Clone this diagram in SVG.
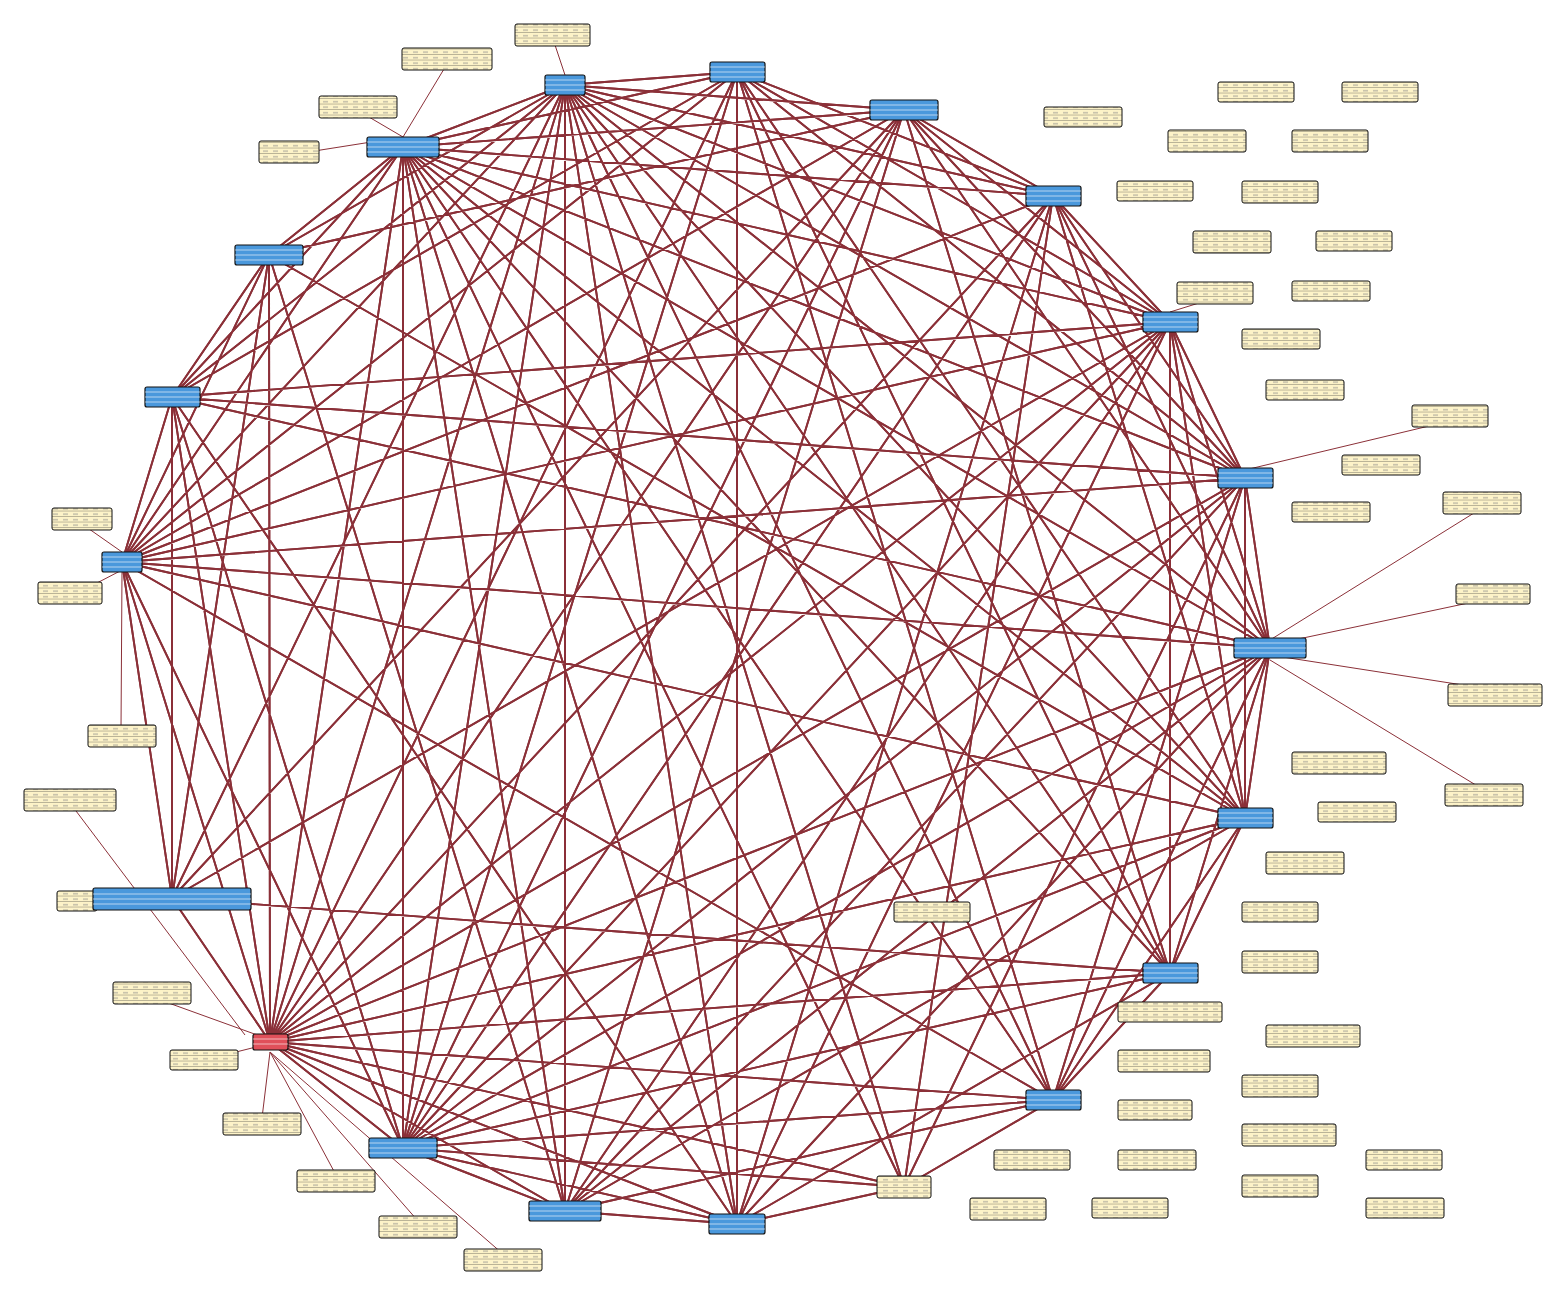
<svg xmlns="http://www.w3.org/2000/svg" width="1565" height="1297" viewBox="0 0 1565 1297">
<defs>
<pattern id="rows" width="10" height="5.5" patternUnits="userSpaceOnUse"><rect width="10" height="5.5" fill="#fdf3c8"/><line x1="0" y1="5.2" x2="10" y2="5.2" stroke="#333" stroke-width="0.4"/><line x1="3" y1="2.7" x2="8" y2="2.7" stroke="#888" stroke-width="0.8"/></pattern>
</defs>
<style>
.e{fill:none;stroke:#8b3038;stroke-width:1.9}
.s{fill:none;stroke:#8b3038;stroke-width:1}
.h{fill:#4a98dc;stroke:#111;stroke-width:1.2}
.r{fill:#e0505a;stroke:#111;stroke-width:1.2}
.y{fill:url(#rows);stroke:#111;stroke-width:1}
</style>
<rect width="1565" height="1297" fill="#fff"/>
<g id="connectors">
<g id="edges">
<path id="E" d="M565 85L737 72M565 85L904 110M565 85L1053 196M565 85L1170 322M565 85L1245 478M565 85L1270 648M565 85L1245 818M565 85L1170 973M565 85L1053 1100M565 85L904 1187M565 85L737 1224M565 85L565 1211M565 85L403 1148M565 85L270 1042M565 85L172 898M565 85L122 562M565 85L172 397M565 85L269 255M565 85L403 147
M737 72L1053 196M737 72L1170 322M737 72L1245 478M737 72L1245 818M737 72L1170 973M737 72L1053 1100M737 72L737 1224M737 72L403 1148M737 72L270 1042M737 72L122 562M737 72L172 397M737 72L403 147
M904 110L1053 196M904 110L1170 322M904 110L1245 478M904 110L1270 648M904 110L1170 973M904 110L565 1211M904 110L403 1148M904 110L270 1042M904 110L172 898M904 110L122 562M904 110L269 255M904 110L403 147
M1053 196L1170 322M1053 196L1245 478M1053 196L1270 648M1053 196L1245 818M1053 196L904 1187M1053 196L737 1224M1053 196L403 1148M1053 196L270 1042M1053 196L122 562M1053 196L403 147
M1170 322L1245 478M1170 322L1270 648M1170 322L1245 818M1170 322L1170 973M1170 322L737 1224M1170 322L565 1211M1170 322L403 1148M1170 322L270 1042M1170 322L172 898M1170 322L122 562M1170 322L172 397M1170 322L403 147
M1245 478L1270 648M1245 478L1245 818M1245 478L1053 1100M1245 478L904 1187M1245 478L565 1211M1245 478L403 1148M1245 478L270 1042M1245 478L122 562M1245 478L172 397M1245 478L403 147
M1270 648L1245 818M1270 648L1170 973M1270 648L1053 1100M1270 648L737 1224M1270 648L565 1211M1270 648L403 1148M1270 648L270 1042M1270 648L122 562M1270 648L172 397M1270 648L403 147
M1245 818L1170 973M1245 818L1053 1100M1245 818L565 1211M1245 818L403 1148M1245 818L270 1042M1245 818L122 562M1245 818L269 255M1245 818L403 147
M1170 973L1053 1100M1170 973L737 1224M1170 973L403 1148M1170 973L270 1042M1170 973L172 898M1170 973L403 147
M1053 1100L904 1187M1053 1100L565 1211M1053 1100L403 1148M1053 1100L270 1042M1053 1100L122 562M1053 1100L403 147
M904 1187L737 1224M904 1187L403 1148M904 1187L270 1042M904 1187L403 147
M737 1224L565 1211M737 1224L403 1148M737 1224L270 1042M737 1224L172 397M737 1224L403 147
M565 1211L403 1148M565 1211L270 1042M565 1211L269 255M565 1211L403 147
M403 1148L270 1042M403 1148L122 562M403 1148L172 397M403 1148L403 147
M270 1042L172 898M270 1042L122 562M270 1042L172 397M270 1042L269 255M270 1042L403 147
M172 898L122 562M172 898L172 397M172 898L269 255
M122 562L172 397M122 562L269 255M122 562L403 147
M172 397L269 255M172 397L403 147M269 255L403 147" class="e"/>
<use href="#E" style="stroke:#fff;stroke-width:0.7"/>
</g>
<path class="s" d="M552 36L565 75M447 64L403 137M357 110L403 137M289 155L403 137M82 524L122 552M70 597L122 570M121 729L122 572M70 803L245 1035M152 997L260 1036M204 1060L260 1046M262 1118L270 1052M336 1175L270 1052M418 1221L270 1052M503 1254L270 1052M1450 421L1245 470M1482 508L1270 640M1492 598L1270 645M1495 690L1270 655M1484 790L1270 660M1215 298L1170 312"/>
</g>
<g id="hubs">
<g id="h1"><rect class="h" x="545" y="75" width="40" height="20" rx="2"/></g>
<g id="h2"><rect class="h" x="710" y="62" width="55" height="20" rx="2"/></g>
<g id="h3"><rect class="h" x="870" y="100" width="68" height="20" rx="2"/></g>
<g id="h4"><rect class="h" x="1026" y="186" width="55" height="20" rx="2"/></g>
<g id="h5"><rect class="h" x="1143" y="312" width="55" height="20" rx="2"/></g>
<g id="h6"><rect class="h" x="1218" y="468" width="55" height="20" rx="2"/></g>
<g id="h7"><rect class="h" x="1234" y="638" width="72" height="20" rx="2"/></g>
<g id="h8"><rect class="h" x="1218" y="808" width="55" height="20" rx="2"/></g>
<g id="h9"><rect class="h" x="1143" y="963" width="55" height="20" rx="2"/></g>
<g id="h10"><rect class="h" x="1026" y="1090" width="55" height="20" rx="2"/></g>
<g id="h11"><rect class="y" x="877" y="1176" width="54" height="22" rx="2"/></g>
<g id="h12"><rect class="h" x="709" y="1214" width="56" height="20" rx="2"/></g>
<g id="h13"><rect class="h" x="529" y="1201" width="72" height="20" rx="2"/></g>
<g id="h14"><rect class="h" x="369" y="1138" width="68" height="20" rx="2"/></g>
<g id="h16"><rect class="y" x="57" y="891" width="40" height="20" rx="2"/><rect class="h" x="93" y="888" width="158" height="22" rx="2"/></g>
<g id="h15"><rect class="r" x="253" y="1034" width="35" height="16" rx="2"/></g>
<g id="h17"><rect class="h" x="102" y="552" width="40" height="20" rx="2"/></g>
<g id="h18"><rect class="h" x="145" y="387" width="55" height="20" rx="2"/></g>
<g id="h19"><rect class="h" x="235" y="245" width="68" height="20" rx="2"/></g>
<g id="h20"><rect class="h" x="367" y="137" width="72" height="20" rx="2"/></g>
<path d="M545 80h40M545 85h40M545 90h40M710 67h55M710 72h55M710 77h55M870 105h68M870 110h68M870 115h68M1026 191h55M1026 196h55M1026 201h55M1143 317h55M1143 322h55M1143 327h55M1218 473h55M1218 478h55M1218 483h55M1234 643h72M1234 648h72M1234 653h72M1218 813h55M1218 818h55M1218 823h55M1143 968h55M1143 973h55M1143 978h55M1026 1095h55M1026 1100h55M1026 1105h55M709 1219h56M709 1224h56M709 1229h56M529 1206h72M529 1211h72M529 1216h72M369 1143h68M369 1148h68M369 1153h68M93 894h158M93 899h158M93 904h158M253 1039h35M253 1044h35M102 557h40M102 562h40M102 567h40M145 392h55M145 397h55M145 402h55M235 250h68M235 255h68M235 260h68M367 142h72M367 147h72M367 152h72" stroke="#fff" stroke-width="0.6"/>
</g>
<g id="satellites">
<rect class="y" x="515" y="24" width="75" height="22" rx="2"/>
<rect class="y" x="402" y="48" width="90" height="22" rx="2"/>
<rect class="y" x="319" y="96" width="78" height="22" rx="2"/>
<rect class="y" x="259" y="141" width="60" height="22" rx="2"/>
<rect class="y" x="52" y="508" width="60" height="22" rx="2"/>
<rect class="y" x="38" y="582" width="64" height="22" rx="2"/>
<rect class="y" x="88" y="725" width="68" height="22" rx="2"/>
<rect class="y" x="24" y="789" width="92" height="22" rx="2"/>
<rect class="y" x="113" y="982" width="78" height="22" rx="2"/>
<rect class="y" x="170" y="1050" width="68" height="20" rx="2"/>
<rect class="y" x="223" y="1113" width="78" height="22" rx="2"/>
<rect class="y" x="297" y="1170" width="78" height="22" rx="2"/>
<rect class="y" x="379" y="1216" width="78" height="22" rx="2"/>
<rect class="y" x="464" y="1249" width="78" height="22" rx="2"/>
<rect class="y" x="1412" y="405" width="76" height="22" rx="2"/>
<rect class="y" x="1443" y="492" width="78" height="22" rx="2"/>
<rect class="y" x="1456" y="584" width="74" height="20" rx="2"/>
<rect class="y" x="1448" y="684" width="94" height="22" rx="2"/>
<rect class="y" x="1445" y="784" width="78" height="22" rx="2"/>
<rect class="y" x="1177" y="282" width="76" height="22" rx="2"/>
<rect class="y" x="1218" y="82" width="76" height="20" rx="2"/>
<rect class="y" x="1342" y="82" width="76" height="20" rx="2"/>
<rect class="y" x="1044" y="107" width="78" height="20" rx="2"/>
<rect class="y" x="1168" y="130" width="78" height="22" rx="2"/>
<rect class="y" x="1292" y="130" width="76" height="22" rx="2"/>
<rect class="y" x="1117" y="181" width="76" height="20" rx="2"/>
<rect class="y" x="1242" y="181" width="76" height="22" rx="2"/>
<rect class="y" x="1193" y="231" width="78" height="22" rx="2"/>
<rect class="y" x="1316" y="231" width="76" height="20" rx="2"/>
<rect class="y" x="1292" y="281" width="78" height="20" rx="2"/>
<rect class="y" x="1242" y="329" width="78" height="20" rx="2"/>
<rect class="y" x="1266" y="380" width="78" height="20" rx="2"/>
<rect class="y" x="1342" y="455" width="78" height="20" rx="2"/>
<rect class="y" x="1292" y="502" width="78" height="20" rx="2"/>
<rect class="y" x="1292" y="752" width="94" height="22" rx="2"/>
<rect class="y" x="1318" y="802" width="78" height="20" rx="2"/>
<rect class="y" x="1266" y="852" width="78" height="22" rx="2"/>
<rect class="y" x="1242" y="902" width="76" height="20" rx="2"/>
<rect class="y" x="1242" y="951" width="76" height="22" rx="2"/>
<rect class="y" x="1118" y="1002" width="104" height="20" rx="2"/>
<rect class="y" x="894" y="902" width="76" height="20" rx="2"/>
<rect class="y" x="1266" y="1025" width="94" height="22" rx="2"/>
<rect class="y" x="1118" y="1050" width="92" height="22" rx="2"/>
<rect class="y" x="1242" y="1075" width="76" height="22" rx="2"/>
<rect class="y" x="1118" y="1100" width="74" height="20" rx="2"/>
<rect class="y" x="1242" y="1124" width="94" height="22" rx="2"/>
<rect class="y" x="994" y="1150" width="76" height="20" rx="2"/>
<rect class="y" x="1118" y="1150" width="78" height="20" rx="2"/>
<rect class="y" x="1242" y="1175" width="76" height="22" rx="2"/>
<rect class="y" x="1366" y="1150" width="76" height="20" rx="2"/>
<rect class="y" x="970" y="1198" width="76" height="22" rx="2"/>
<rect class="y" x="1092" y="1198" width="76" height="20" rx="2"/>
<rect class="y" x="1366" y="1198" width="78" height="20" rx="2"/>
</g>
</svg>
